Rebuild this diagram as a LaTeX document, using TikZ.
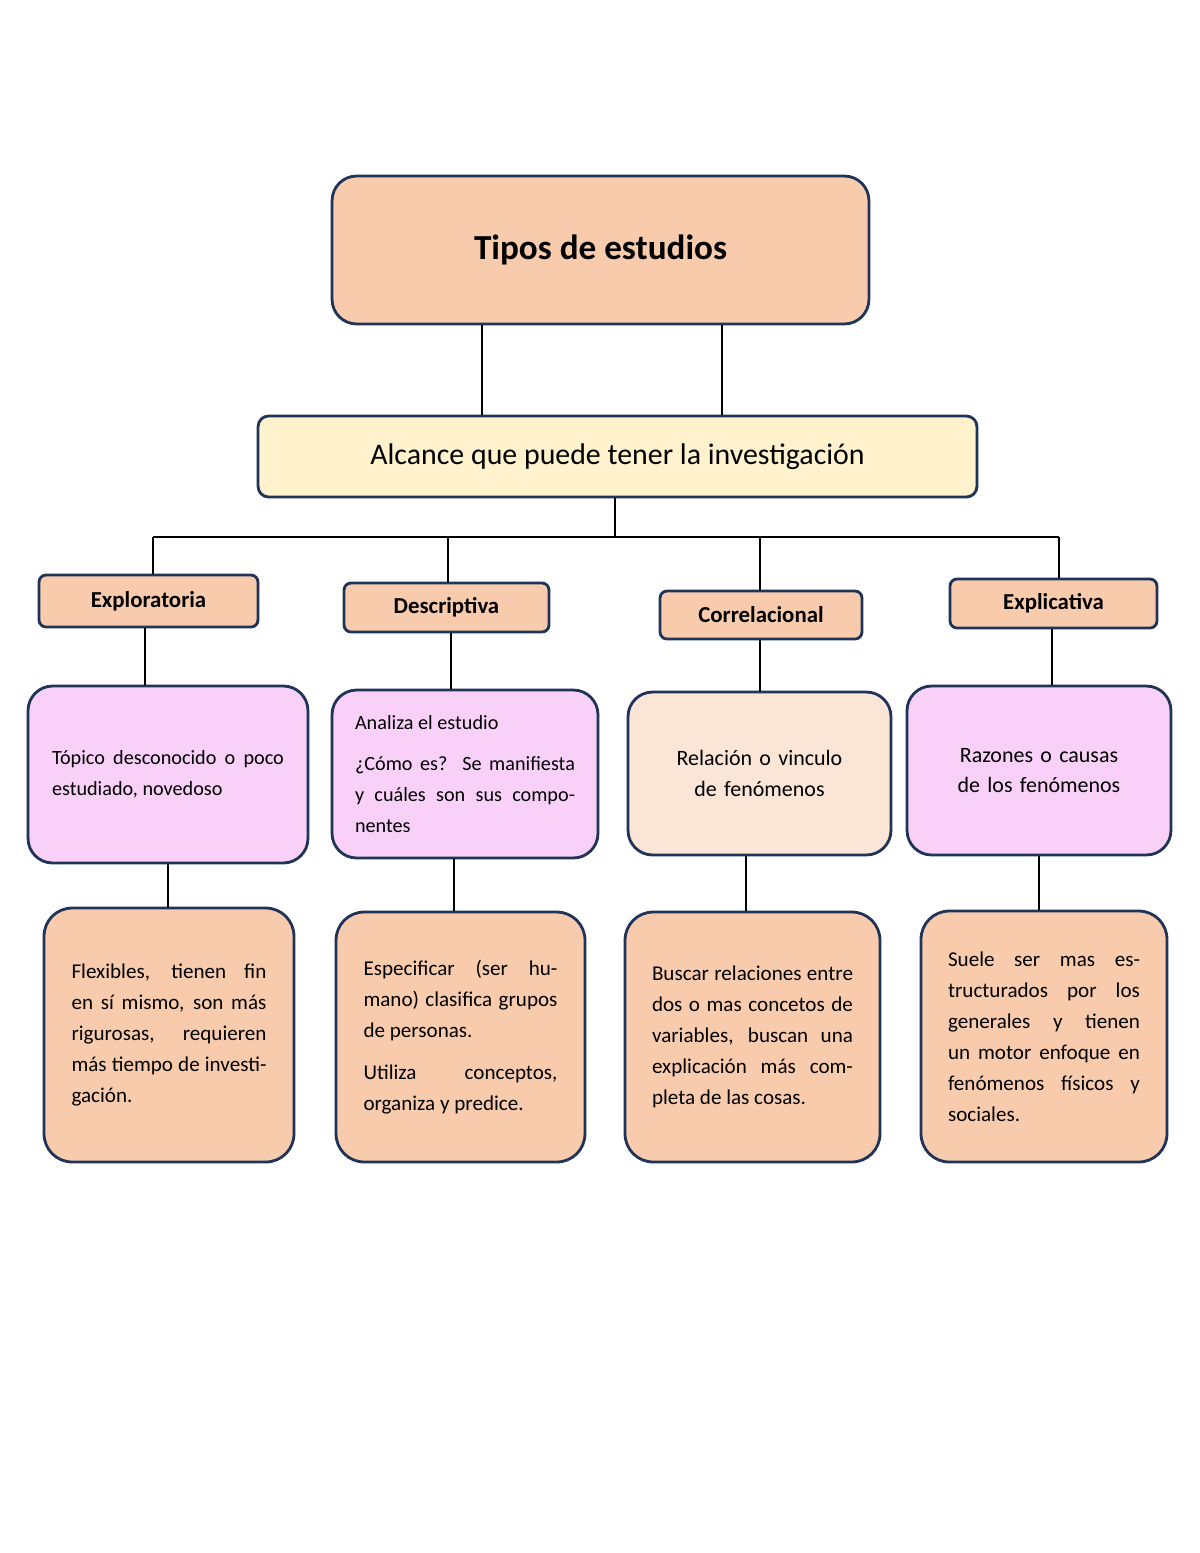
\documentclass[tikz,border=0pt]{standalone}
\usepackage{fontspec}
\setmainfont{Carlito}
\usepackage{ragged2e}
\definecolor{Navy}{HTML}{1F3458}
\definecolor{Peach}{HTML}{F8CBAD}
\definecolor{Cream}{HTML}{FFF2CC}
\definecolor{Lilac}{HTML}{F8D0F8}
\definecolor{Skin}{HTML}{FBE5D6}
\tikzset{
  box/.style={draw=Navy, line width=1.6pt, inner sep=0pt},
  cat/.style={box, fill=Peach, rounded corners=4pt, font=\fontsize{13}{15}\selectfont\bfseries},
  mid/.style={box, fill=Lilac, rounded corners=14pt, font=\fontsize{11.5}{17.6}\selectfont},
  bot/.style={box, fill=Peach, rounded corners=16pt, font=\fontsize{12}{17.6}\selectfont},
  link/.style={line width=0.6pt, black}
}
\begin{document}
\begin{tikzpicture}[x=0.02cm, y=-0.02cm]
\useasboundingbox (0,0) rectangle (1200,1553);
% top
\node[box, fill=Peach, rounded corners=14pt, minimum width=10.74cm, minimum height=2.96cm,
  font=\fontsize{20}{24}\selectfont\bfseries] (tipos) at (600.5,250) {Tipos de estudios};
\node[box, fill=Cream, rounded corners=6pt, minimum width=14.38cm, minimum height=1.62cm,
  font=\fontsize{17}{20}\selectfont] (alcance) at (617.5,456.5) {Alcance que puede tener la investigación};
\coordinate (t1) at (482,0); \coordinate (t2) at (722,0);
\draw[link] (tipos.south -| t1) -- (alcance.north -| t1);
\draw[link] (tipos.south -| t2) -- (alcance.north -| t2);
% categories
\node[cat, minimum width=4.38cm, minimum height=1.04cm] (explo) at (148.5,601) {Exploratoria};
\node[cat, minimum width=4.1cm, minimum height=0.98cm] (desc) at (446.5,607.5) {Descriptiva};
\node[cat, minimum width=4.04cm, minimum height=0.96cm] (corr) at (761,615) {Correlacional};
\node[cat, minimum width=4.14cm, minimum height=0.98cm] (expl) at (1053.5,603.5) {Explicativa};
\coordinate (bus) at (615,537);
\coordinate (c1) at (153,0); \coordinate (c2) at (448,0);
\coordinate (c3) at (760,0); \coordinate (c4) at (1059,0);
\draw[link] (alcance.south -| bus) -- (bus);
\draw[link] (bus -| c1) -- (bus -| c4);
\draw[link] (bus -| c1) -- (explo.north -| c1);
\draw[link] (bus -| c2) -- (desc.north -| c2);
\draw[link] (bus -| c3) -- (corr.north -| c3);
\draw[link] (bus -| c4) -- (expl.north -| c4);
% middle row
\node[mid, minimum width=5.6cm, minimum height=3.54cm, text width=4.64cm, align=justify] (m1) at (168,774.5)
  {Tópico desconocido o poco estudiado, novedoso};
\node[mid, minimum width=5.32cm, minimum height=3.36cm, text width=4.4cm, align=justify] (m2) at (465,774)
  {Analiza el estudio\\[6pt] ¿Cómo es? Se manifiesta y cuáles son sus componentes};
\node[mid, fill=Skin, minimum width=5.26cm, minimum height=3.26cm, text width=4.4cm, align=center,
  font=\fontsize{12.5}{17.6}\selectfont] (m3) at (759.5,773.5) {Relación o vinculo de fenómenos};
\node[mid, minimum width=5.28cm, minimum height=3.38cm, text width=4.4cm, align=center,
  font=\fontsize{12.5}{17.6}\selectfont] (m4) at (1039,770.5) {Razones o causas de los fenómenos};
\coordinate (d1) at (145,0); \coordinate (d2) at (451,0);
\coordinate (d3) at (760,0); \coordinate (d4) at (1052,0);
\draw[link] (explo.south -| d1) -- (m1.north -| d1);
\draw[link] (desc.south -| d2) -- (m2.north -| d2);
\draw[link] (corr.south -| d3) -- (m3.north -| d3);
\draw[link] (expl.south -| d4) -- (m4.north -| d4);
% bottom row
\node[bot, minimum width=5.0cm, minimum height=5.08cm, text width=3.9cm, align=justify] (b1) at (169,1035)
  {Flexibles, tienen fin en sí mismo, son más rigurosas, requieren más tiempo de investigación.};
\node[bot, minimum width=4.98cm, minimum height=5.0cm, text width=3.88cm, align=justify] (b2) at (460.5,1037)
  {Especificar (ser humano) clasifica grupos de personas.\\[6pt] Utiliza conceptos, organiza y predice.};
\node[bot, minimum width=5.1cm, minimum height=5.0cm, text width=4.02cm, align=justify] (b3) at (752.5,1037)
  {Buscar relaciones entre dos o mas concetos de variables, buscan una explicación más completa de las cosas.};
\node[bot, minimum width=4.92cm, minimum height=5.02cm, text width=3.84cm, align=justify] (b4) at (1044,1036.5)
  {Suele ser mas estructurados por los generales y tienen un motor enfoque en fenómenos físicos y sociales.};
\coordinate (e1) at (168,0); \coordinate (e2) at (454,0);
\coordinate (e3) at (746,0); \coordinate (e4) at (1039,0);
\draw[link] (m1.south -| e1) -- (b1.north -| e1);
\draw[link] (m2.south -| e2) -- (b2.north -| e2);
\draw[link] (m3.south -| e3) -- (b3.north -| e3);
\draw[link] (m4.south -| e4) -- (b4.north -| e4);
\end{tikzpicture}
\end{document}
